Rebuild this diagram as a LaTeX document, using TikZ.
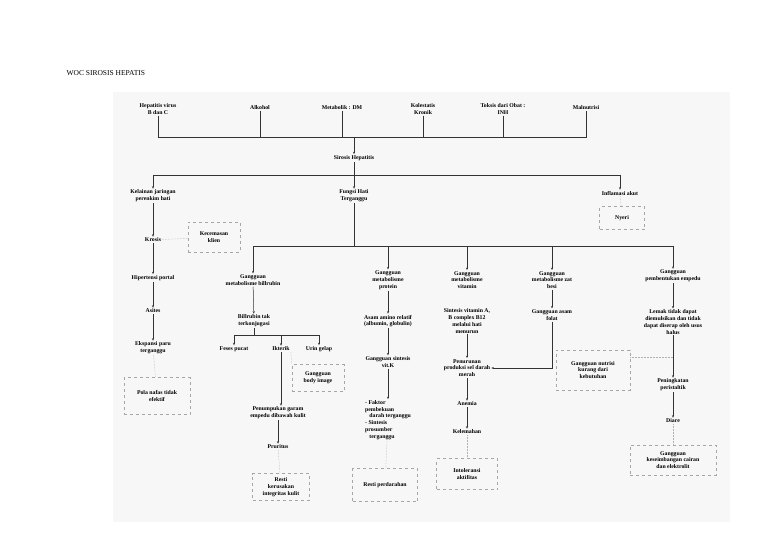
\documentclass[tikz,border=0pt]{standalone}
\usepackage{fontspec}
\setmainfont{Liberation Serif}
\usetikzlibrary{arrows.meta}
\begin{document}
\begin{tikzpicture}[x=1pt,y=-1pt,
 t/.style={align=center,font=\fontsize{5.8}{6.8}\selectfont\bfseries,inner sep=1pt},
 db/.style={t,draw=gray!70,dashed,inner sep=4pt},
 ar/.style={draw=black!80,-{Stealth[length=2.5pt,width=2pt]},line width=0.5pt},
 ln/.style={draw=black!80,line width=0.5pt},
 dl/.style={draw=gray!60,densely dotted,line width=0.5pt}]
\useasboundingbox (0,0) rectangle (768,543);
\fill[white] (0,0) rectangle (768,543);
\fill[gray!6] (113,92) rectangle (730,522);
\node[anchor=west,font=\fontsize{7.5}{8}\selectfont] (title) at (63,73) {WOC SIROSIS HEPATIS};
% causes
\node[t] (c1) at (158,109) {Hepatitis virus\\B dan C};
\node[t] (c2) at (260,108) {Alkohol};
\node[t] (c3) at (342,108) {Metabolik : DM};
\node[t] (c4) at (423,109) {Kolestatis\\Kronik};
\node[t] (c5) at (503,109) {Toksis dari Obat :\\INH};
\node[t] (c6) at (586,108) {Malnutrisi};
\coordinate (b1) at (354,137);
\foreach \c in {c1,c2,c3,c4,c5,c6} \draw[ln] (\c.south) -- (\c.south |- b1);
\draw[ln] (158,137) -- (587,137);
\node[t] (sh) at (354,158) {Sirosis Hepatitis};
\draw[ar] (b1) -- (sh);
\coordinate (b2) at (354,175);
\draw[ln] (sh) -- (b2);
\draw[ln] (153,175) -- (620,175);
\node[t] (kj) at (153,196) {Kelainan jaringan\\perenkim hati};
\node[t] (fh) at (354,196) {Fungsi Hati\\Terganggu};
\node[t] (ia) at (620,193) {Inflamasi akut};
\draw[ar] (153,175) -- (kj);
\draw[ar] (b2) -- (fh);
\draw[ar] (620,175) -- (ia);
\node[db,minimum width=45pt,minimum height=23pt] (ny) at (622,218) {Nyeri};
\draw[dl] (ia) -- (ny);
% left column
\node[t] (kr) at (153,240) {Krosis};
\node[db,minimum width=52pt,minimum height=30pt] (kc) at (214,237) {Kecemasan\\klien};
\node[t] (hp) at (153,278) {Hipertensi portal};
\node[t] (as) at (153,311) {Asites};
\node[t] (ep) at (153,348) {Ekspansi paru\\terganggu};
\node[db,minimum width=66pt,minimum height=37pt] (pn) at (157,396) {Pola nafas tidak\\efektif};
\draw[ar] (kj) -- (kr); \draw[dl] (kr) -- (kc);
\draw[ar] (kr) -- (hp); \draw[ar] (hp) -- (as); \draw[ar] (as) -- (ep);
\draw[dl] (ep) -- (pn);
% second bus
\coordinate (b3) at (354,246);
\draw[ln] (fh) -- (b3);
\draw[ln] (253,246) -- (673,246);
\node[t] (g1) at (253,280) {Gangguan\\metabolisme billrubin};
\node[t] (g2) at (388,280) {Gangguan\\metabolisme\\protein};
\node[t] (g3) at (467,280) {Gangguan\\metabolisme\\vitamin};
\node[t] (g4) at (552,280) {Gangguan\\metabolisme zat\\besi};
\node[t] (g5) at (673,276) {Gangguan\\pembentukan empedu};
\foreach \g in {g1,g2,g3,g4,g5} \draw[ar] (\g.north |- b3) -- (\g);
% bilirubin
\node[t] (bt) at (254,321) {Billrubin tak\\terkonjugasi};
\draw[ar] (g1) -- (bt);
\coordinate (b4) at (254,335);
\draw[ln] (bt) -- (b4); \draw[ln] (234,335) -- (319,335);
\node[t] (fp) at (234,349) {Feses pucat};
\node[t] (ik) at (281,349) {Ikterik};
\node[t] (ug) at (319,349) {Urin gelap};
\foreach \n in {fp,ik,ug} \draw[ar] (\n.north |- b4) -- (\n);
\node[db,minimum width=52pt,minimum height=27pt] (bi) at (318,378) {Gangguan\\body image};
\draw[dl] (ik.south east) -- (bi.north west);
\node[t] (pg) at (278,413) {Penumpukan garam\\empedu dibawah kulit};
\draw[ar] (ik.south) -- (ik.south |- pg.north);
\node[t] (pr) at (278,447) {Pruritus};
\draw[ar] (pg) -- (pr);
\node[db,minimum width=57pt] (rk) at (281,487) {Resti\\kerusakan\\integritas kulit};
\draw[dl] (pr) -- (rk);
% protein
\node[t] (aa) at (388,321) {Asam amino relatif\\(albumin, globulin)};
\node[t] (gs) at (388,362) {Gangguan sintesis\\vit.K};
\node[t,align=left] (fk) at (388,420) {- Faktor\\pembekuan\\\ \ \ darah terganggu\\- Sintesis\\prosumber\\\ \ \ terganggu};
\node[db,minimum width=65pt,minimum height=33pt] (rp) at (385,485) {Resti perdarahan};
\draw[ar] (g2) -- (aa); \draw[ar] (aa) -- (gs); \draw[ar] (gs) -- (fk);
\draw[dl] (fk) -- (rp);
% vitamin
\node[t] (sv) at (467,321) {Sintesis vitamin A,\\B complex B12\\melalui hati\\menurun};
\node[t] (ps) at (467,368) {Penurunan\\produksi sel darah\\merah};
\node[t] (an) at (467,404) {Anemia};
\node[t] (kl) at (467,432) {Kelemahan};
\node[db,minimum width=61pt,minimum height=31pt] (ia2) at (467,474) {Intoleransi\\aktifitas};
\draw[ar] (sv) -- (ps); \draw[ar] (ps) -- (an); \draw[ar] (an) -- (kl);
\draw[dl] (kl) -- (ia2);
% zat besi
\node[t] (af) at (552,315) {Gangguan asam\\folat};
\draw[ar] (g4) -- (af);
\draw[ar] (af.south) |- (ps.east);
% empedu
\node[t] (lm) at (673,322) {Lemak tidak dapat\\diemulsikan dan tidak\\dapat diserap oleh usus\\halus};
\node[t] (pp) at (673,385) {Peningkatan\\peristaltik};
\node[t] (di) at (673,421) {Diare};
\node[db,minimum width=86pt,minimum height=30pt] (gk) at (673,460) {Gangguan\\keseimbangan cairan\\dan elektrolit};
\draw[ar] (g5) -- (lm); \draw[ar] (lm) -- (pp); \draw[ar] (pp) -- (di);
\draw[dl] (di) -- (gk);
\node[db,minimum width=74pt,minimum height=40pt] (gn) at (593,370) {Gangguan nutrisi\\kurang dari\\kebutuhan};
\coordinate (nj) at (673,357);
\draw[dl] (gn.east |- nj) -- (nj);
\end{tikzpicture}
\end{document}
